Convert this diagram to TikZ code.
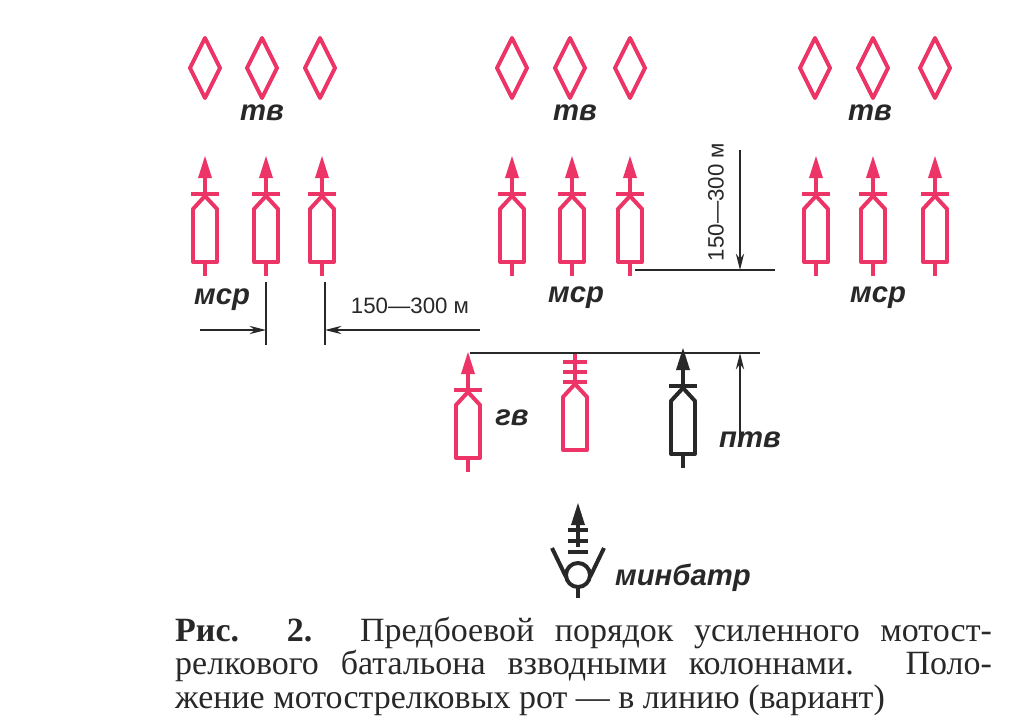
\documentclass[tikz,border=0pt]{standalone}
\usepackage{fontspec}
\setmainfont{Liberation Serif}
\setsansfont{Liberation Sans}
\usetikzlibrary{arrows.meta, positioning}
\definecolor{tpink}{RGB}{236,52,102}
\definecolor{tink}{RGB}{40,40,40}
\tikzset{
  sym/.style={line width=3.4pt, line join=round},
  dim/.style={line width=1.4pt, tink},
  lbl/.style={font=\sffamily\bfseries\itshape\fontsize{25}{27}\selectfont, text=tink},
  dimtxt/.style={font=\sffamily\fontsize{19}{21}\selectfont, text=tink},
  pics/tank/.style={code={\draw[sym] (0,-30) -- (15,0) -- (0,30) -- (-15,0) -- cycle;}},
  pics/ifv/.style={code={
    \draw[sym] (0,0) -- (0,-24);
    \fill (0,-38) -- (7,-16) -- (-7,-16) -- cycle;
    \draw[sym] (-14,0) -- (14,0);
    \draw[sym] (0,2) -- (-12,15) -- (-12,68) -- (12,68) -- (12,15) -- cycle;
    \draw[sym] (0,68) -- (0,82);}},
  pics/gun/.style={code={
    \draw[sym] (0,0) -- (0,-28);
    \foreach \b in {0,-10,-20} \draw[sym] (-12,\b) -- (12,\b);
    \draw[sym] (0,2) -- (-12,15) -- (-12,68) -- (12,68) -- (12,15) -- cycle;}}
}
\begin{document}
\begin{tikzpicture}[x=0.03cm, y=-0.03cm, >={Stealth[length=14pt,width=7pt]}]
\useasboundingbox (0,0) rectangle (1023,720);
% tanks
\foreach \x in {205,262,320,512,570,630,815,873,935}
  \pic[tpink] at (\x,68) {tank};
\node[lbl] (tv1) at (262,113) {тв};
\node[lbl] (tv2) at (575,113) {тв};
\node[lbl] (tv3) at (870,113) {тв};
% motor rifle companies
\foreach \x in {205,266,322,512,572,630,816,873,935}
  \pic[tpink] at (\x,194) {ifv};
\node[lbl] (msr1) at (222,300) {мср};
\node[lbl] (msr2) at (576,298) {мср};
\node[lbl] (msr3) at (878,298) {мср};
% interval between companies
\coordinate (ia) at (266,282);
\coordinate (ib) at (325,282);
\draw[dim] (ia) -- ++(0,63) coordinate (ia2);
\draw[dim] (ib) -- ++(0,63) coordinate (ib2);
\coordinate (ca) at (266,330);
\coordinate (cb) at (325,330);
\draw[dim,->] (200,330) -- (ca);
\draw[dim,->] (480,330) -- (cb);
\node[dimtxt] (d1) at (410,306) {150---300 м};
% depth
\coordinate (la) at (635,270);
\coordinate (lb) at (775,270);
\draw[dim] (la) -- (lb);
\coordinate (dt) at (740,270);
\draw[dim,->] (740,150) -- (dt);
\node[dimtxt, rotate=90] (d2) at (716,202) {150---300 м};
\coordinate (ma) at (470,353);
\coordinate (mb) at (760,353);
\draw[dim] (ma) -- (mb);
\coordinate (db) at (740,353);
\draw[dim,->] (740,440) -- (db);
% battalion elements
\pic[tpink] at (468,390) {ifv};
\node[lbl] (gv) at (512,418) {гв};
\pic[tpink] at (575,382) {gun};
\pic[tink] at (683,386) {ifv};
\node[lbl] (ptv) at (750,440) {птв};
% mortar battery
\draw[sym,tink] (578,547) -- (578,522);
\fill[tink] (578,503) -- (585,525) -- (571,525) -- cycle;
\foreach \b in {530,541,552} \draw[sym,tink] (568,\b) -- (588,\b);
\draw[sym,tink] (578,575) circle (12);
\draw[sym,tink] (552,548) -- (566,577);
\draw[sym,tink] (604,548) -- (590,577);
\draw[sym,tink] (578,587) -- (578,598);
\node[lbl, anchor=west] (mb1) at (611,578) {минбатр};
% caption
\node[anchor=north west, text width=24.5cm, align=justify, inner sep=0pt,
  font=\fontsize{29}{28.5}\selectfont, text=tink] (cap) at (175,617)
  {\parfillskip=0pt\textbf{Рис. 2.} Предбоевой порядок усиленного мотост-\linebreak
   релкового батальона взводными колоннами. Поло-\linebreak
   жение мотострелковых рот --- в линию (вариант)};
\end{tikzpicture}
\end{document}
